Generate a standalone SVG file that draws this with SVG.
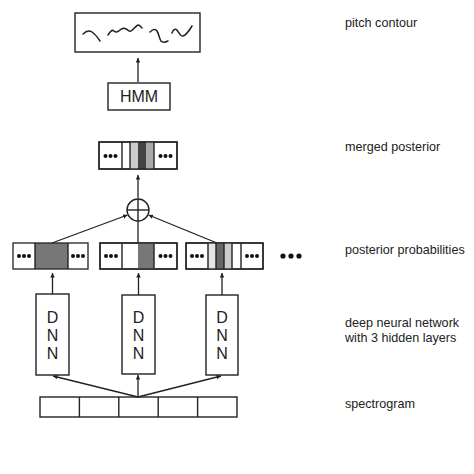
<svg xmlns="http://www.w3.org/2000/svg" width="474" height="474" viewBox="0 0 474 474">
<style>
.b{fill:#fff;stroke:#222;stroke-width:1.4}
.f{stroke:#222;stroke-width:1.4}
.c{fill:none;stroke:#222;stroke-width:1.3}
.sq{fill:none;stroke:#222;stroke-width:1.5;stroke-linecap:round;stroke-linejoin:round}
.lbl{font-family:"Liberation Sans",Arial,sans-serif;font-size:12.6px;fill:#222}
.dnn{font-family:"Liberation Sans",Arial,sans-serif;font-size:16px;fill:#222;text-anchor:middle}
</style>
<defs>
<marker id="ah" viewBox="0 0 10 10" refX="10" refY="5" markerWidth="4.5" markerHeight="4.5" orient="auto" markerUnits="userSpaceOnUse">
<path d="M0,0 L10,5 L0,10 z" fill="#222"/>
</marker>
<g id="dots3"><circle cx="-5" cy="0" r="2" fill="#111"/><circle cx="0" cy="0" r="2" fill="#111"/><circle cx="5" cy="0" r="2" fill="#111"/></g>
</defs>
<rect width="474" height="474" fill="#fff"/>

<g id="pitch">
<rect class="b" x="75" y="13" width="125" height="39"/>
<path class="sq" d="M83,34 C86,31 89,30 92,32 C95,34 98,38 100,41"/>
<path class="sq" d="M108,35 C110,32 112,29 114,31 C116,33 118,32 120,30 C123,27 126,28 129,31 C132,33 135,26 138,25 C140,25 141,27 142,28"/>
<path class="sq" d="M150,32 C152,30 155,28 157,31 C159,34 159,38 161,41 C163,43 166,42 168,41"/>
<path class="sq" d="M172,33 C173,30 175,28 177,30 C179,33 181,37 183,36 C186,35 189,31 192,26"/>
</g>

<g id="hmm">
<rect class="b" x="108" y="83" width="62" height="27"/>
<text class="dnn" x="139" y="101.5" font-size="13.3">HMM</text>
</g>

<g id="merged">
<rect class="b" x="99" y="142" width="78" height="27"/>
<rect x="130" y="142" width="8" height="27" fill="#ccc"/>
<rect x="138" y="142" width="8" height="27" fill="#444"/>
<rect x="146" y="142" width="8" height="27" fill="#aaa"/>
<rect class="c" x="99" y="142" width="78" height="27"/>
<line class="f" x1="122" y1="142" x2="122" y2="169"/>
<line class="f" x1="130" y1="142" x2="130" y2="169"/>
<line class="f" x1="154" y1="142" x2="154" y2="169"/>
<use href="#dots3" x="110.5" y="156"/>
<use href="#dots3" x="165.5" y="156"/>
</g>

<g id="sum">
<circle class="b" cx="138" cy="210" r="11"/>
<line class="f" x1="127" y1="210" x2="149" y2="210"/>
<line class="f" x1="138" y1="199" x2="138" y2="221"/>
</g>

<g id="post1">
<rect x="35" y="243" width="33" height="26" fill="#777"/>
<rect class="c" x="13" y="243" width="75" height="26"/>
<line class="f" x1="35" y1="243" x2="35" y2="269"/>
<line class="f" x1="68" y1="243" x2="68" y2="269"/>
<use href="#dots3" x="24" y="256"/>
<use href="#dots3" x="78" y="256"/>
</g>

<g id="post2">
<rect class="b" x="100" y="243" width="77" height="26"/>
<rect x="138" y="243" width="16" height="26" fill="#777"/>
<rect class="c" x="100" y="243" width="77" height="26"/>
<line class="f" x1="122" y1="243" x2="122" y2="269"/>
<line class="f" x1="154" y1="243" x2="154" y2="269"/>
<use href="#dots3" x="111" y="256"/>
<use href="#dots3" x="165.5" y="256"/>
</g>

<g id="post3">
<rect class="b" x="186" y="243" width="77" height="26"/>
<rect x="208" y="243" width="8" height="26" fill="#e4e4e4"/>
<rect x="216" y="243" width="8" height="26" fill="#666"/>
<rect x="224" y="243" width="8" height="26" fill="#ccc"/>
<rect class="c" x="186" y="243" width="77" height="26"/>
<line class="f" x1="208" y1="243" x2="208" y2="269"/>
<line class="f" x1="216" y1="243" x2="216" y2="269"/>
<line class="f" x1="224" y1="243" x2="224" y2="269"/>
<line class="f" x1="232" y1="243" x2="232" y2="269"/>
<line class="f" x1="241" y1="243" x2="241" y2="269"/>
<use href="#dots3" x="197" y="256"/>
<use href="#dots3" x="252" y="256"/>
</g>

<g id="more">
<circle cx="283" cy="256" r="2.6" fill="#111"/>
<circle cx="291" cy="256" r="2.6" fill="#111"/>
<circle cx="299" cy="256" r="2.6" fill="#111"/>
</g>

<g id="dnn1">
<rect class="b" x="36" y="294" width="33" height="81"/>
<text class="dnn" x="52.5" y="323">D</text>
<text class="dnn" x="52.5" y="341">N</text>
<text class="dnn" x="52.5" y="359">N</text>
</g>
<g id="dnn2">
<rect class="b" x="122" y="295" width="33" height="79"/>
<text class="dnn" x="138.5" y="323">D</text>
<text class="dnn" x="138.5" y="341">N</text>
<text class="dnn" x="138.5" y="359">N</text>
</g>
<g id="dnn3">
<rect class="b" x="206" y="295" width="32" height="80"/>
<text class="dnn" x="222" y="323">D</text>
<text class="dnn" x="222" y="341">N</text>
<text class="dnn" x="222" y="359">N</text>
</g>

<g id="spectrogram">
<rect class="b" x="40" y="397" width="197" height="20"/>
<line class="f" x1="79.4" y1="397" x2="79.4" y2="417"/>
<line class="f" x1="118.8" y1="397" x2="118.8" y2="417"/>
<line class="f" x1="158.2" y1="397" x2="158.2" y2="417"/>
<line class="f" x1="197.6" y1="397" x2="197.6" y2="417"/>
</g>

<g id="connectors" class="c">
<line x1="138" y1="82" x2="138" y2="58" marker-end="url(#ah)"/>
<line x1="138" y1="198" x2="138" y2="175" marker-end="url(#ah)"/>
<line x1="138" y1="243" x2="138" y2="221"/>
<line x1="52" y1="243" x2="127.5" y2="215" marker-end="url(#ah)"/>
<line x1="217" y1="243" x2="148.5" y2="215" marker-end="url(#ah)"/>
<line x1="52.5" y1="294" x2="52.5" y2="273" marker-end="url(#ah)"/>
<line x1="138.5" y1="295" x2="138.5" y2="273" marker-end="url(#ah)"/>
<line x1="222" y1="295" x2="222" y2="273" marker-end="url(#ah)"/>
<line x1="138" y1="397" x2="53" y2="376" marker-end="url(#ah)"/>
<line x1="138" y1="397" x2="138" y2="375" marker-end="url(#ah)"/>
<line x1="138" y1="397" x2="221" y2="376" marker-end="url(#ah)"/>
</g>

<g id="labels">
<text class="lbl" x="345" y="27">pitch contour</text>
<text class="lbl" x="345" y="151">merged posterior</text>
<text class="lbl" x="345" y="254">posterior probabilities</text>
<text class="lbl" x="345" y="327">deep neural network</text>
<text class="lbl" x="345" y="342">with 3 hidden layers</text>
<text class="lbl" x="345" y="408">spectrogram</text>
</g>
</svg>
